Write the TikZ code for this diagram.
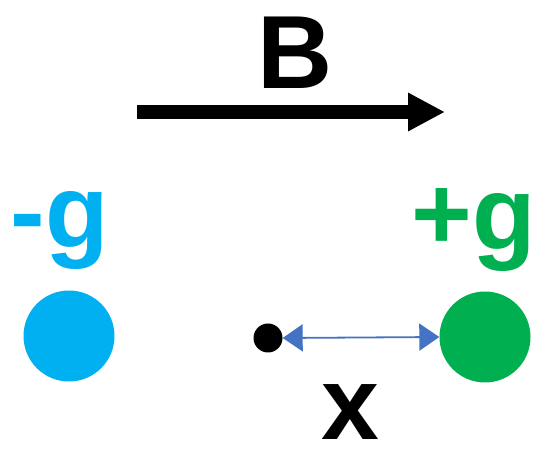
\documentclass[tikz,border=0pt]{standalone}
\usepackage{fontspec}
\setmainfont{Liberation Sans}
\usetikzlibrary{arrows.meta,positioning}
\definecolor{cM}{HTML}{00B0F0}
\definecolor{cP}{HTML}{00B050}
\definecolor{cS}{HTML}{4472C4}
\tikzset{
  charge/.style={circle,inner sep=0pt,minimum size=91pt},
  probe/.style={circle,fill=black,inner sep=0pt,minimum size=29pt},
  lbl/.style={inner sep=0pt,anchor=base,font=\fontsize{104}{104}\selectfont\bfseries},
  fieldarrow/.style={-{Triangle[length=37pt,width=36pt]},line width=14pt},
  sep/.style={{Triangle[length=20pt,width=27pt]}-{Triangle[length=20pt,width=27pt]},line width=1.8pt,cS},
}
\begin{document}
\begin{tikzpicture}[x=1pt,y=-1pt]
  \useasboundingbox (0,0) rectangle (550,454);
  % field
  \coordinate (f0) at (137,112); \coordinate (f1) at (445,112);
  \draw[fieldarrow] (f0) -- (f1);
  \node[lbl] (B) at (295,89) {B};
  % charges
  \node[charge,fill=cM] (qm) at (69,336) {};
  \node[charge,fill=cP] (qp) at (485,337) {};
  \node[lbl,text=cM] (lm) at (60,248) {-g};
  \node[lbl,text=cP] (lp) at (474,250) {+g};
  % probe point
  \node[probe] (p) at (268,338) {};
  \draw[sep] (p.east) -- (qp.west);
  \node[lbl] (x) at (350,440) {x};
\end{tikzpicture}
\end{document}
